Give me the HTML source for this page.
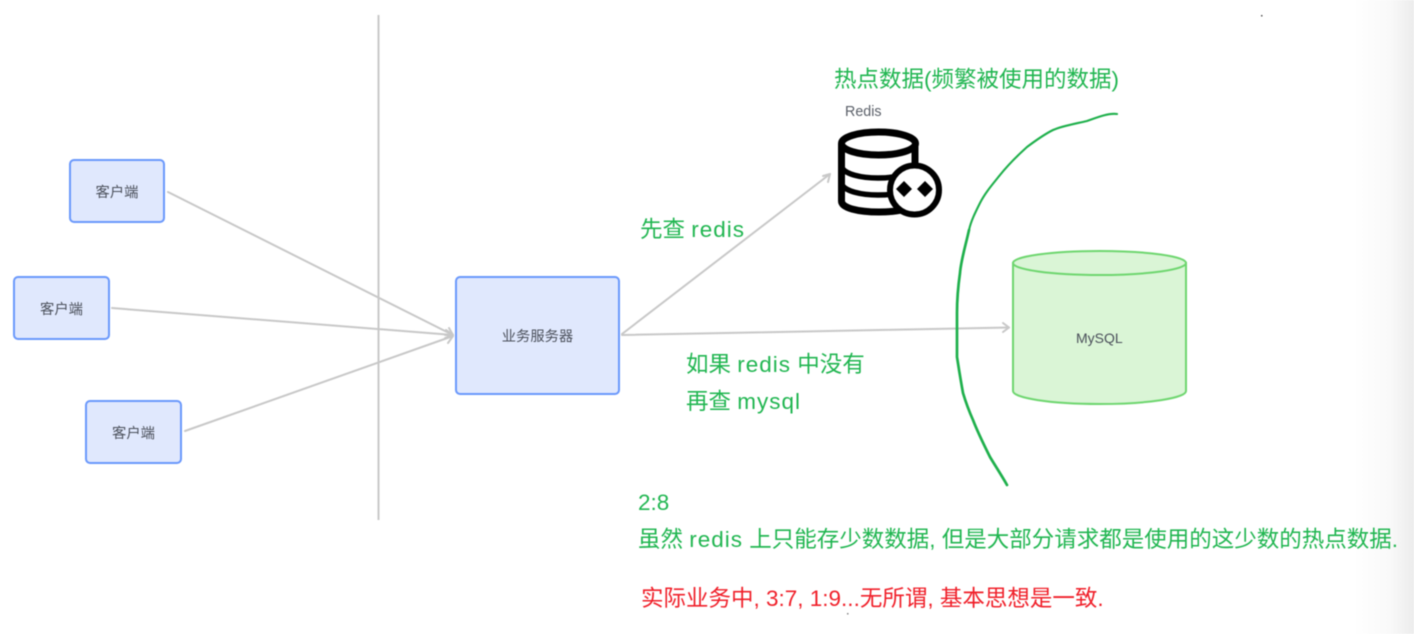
<!DOCTYPE html>
<html lang="zh">
<head>
<meta charset="utf-8">
<style>
html,body{margin:0;padding:0;background:#fff}
#c{position:relative;width:1414px;height:634px;overflow:hidden;background:#fff;font-family:"Liberation Sans","Noto Sans CJK SC",sans-serif;filter:blur(.4px)}
#g{position:absolute;right:0;top:0;width:60px;height:634px;background:linear-gradient(to right,rgba(236,236,236,0),#f9f9f9 60%,#ececec)}
svg{position:absolute;left:0;top:0}
.box{position:absolute;box-sizing:border-box;background:#e0e8fd;border:2px solid #6a98fc;border-radius:5px;display:flex;align-items:center;justify-content:center;color:#4a4f5a;font-size:14.300px;line-height:1;padding-top:4px}
.t{position:absolute;white-space:nowrap;color:#21b651;font-size:22.500px;line-height:30px}
.t b{font-weight:400;letter-spacing:1px}
.r{color:#f0202a}
</style>
</head>
<body>
<div id="c">
<div id="g"></div>
<svg width="1414" height="634" viewBox="0 0 1414 634" fill="none">
  <line x1="378.5" y1="15" x2="378.5" y2="520" stroke="#c8c8c8" stroke-width="2"/>
  <g stroke="#c8c8c8" stroke-width="2" stroke-linecap="round" stroke-linejoin="round">
    <line x1="168" y1="192" x2="453" y2="335"/>
    <polyline points="445,335 453,335 449,328"/>
    <line x1="112" y1="308" x2="453" y2="335"/>
    <polyline points="446,330 453,335 445,338"/>
    <line x1="185" y1="431" x2="453" y2="336"/>
    <polyline points="446,335 453,336 448,343"/>
    <line x1="622" y1="334" x2="830" y2="174"/>
    <polyline points="823,176 830,174 828,182"/>
    <line x1="622" y1="335" x2="1009" y2="327.500"/>
    <polyline points="1003,323 1009,327.500 1003,332"/>
  </g>
  <path d="M1013 263 V391 C1013 398 1050 404 1099.500 404 C1149 404 1186 398 1186 391 V263 Z" fill="#daf5d6" stroke="#6ed66f" stroke-width="2"/>
  <ellipse cx="1099.500" cy="263" rx="86.500" ry="12" fill="#daf5d6" stroke="#6ed66f" stroke-width="2"/>
  <g stroke="#000" stroke-width="7">
    <path d="M841.500 144 V201 C841.500 208 858 212 879 212 C900 212 915 208 915 201 V144" fill="#fff"/>
    <ellipse cx="878.500" cy="143.500" rx="37" ry="11.500" fill="#fff"/>
    <path d="M842 168 C846 174 860 178 878 178 C896 178 911 174 915 168" stroke-width="5.500"/>
    <path d="M842 185 C846 191 860 195 878 195 C896 195 911 191 915 185" stroke-width="5.500"/>
    <circle cx="914.500" cy="190" r="24.500" fill="#fff" stroke-width="6"/>
  </g>
  <path d="M896 189 L904 181 L912 189 L904 197 Z M917 189 L925 181 L933 189 L925 197 Z" fill="#000"/>
  <path d="M1117 114 C1108 113 1098 117 1087 121 C1074 124 1062 126 1053 130 C1043 135 1035 141 1027 147 C1017 156 1008 165 1000 175 C992 185 985 193 980 203 C975 213 971 221 969 230" stroke="#1fb04c" stroke-width="2.100" stroke-linecap="round" stroke-linejoin="round"/>
  <path d="M969 230 C966 244 961 260 960 273 C958 287 957 300 957 313 C957 328 957 343 957 357 C959 370 961 382 963 393 C966 403 969 411 973 420 C978 433 984 445 990 457 C996 467 1002 476 1007 485" stroke="#1fb04c" stroke-width="2.700" stroke-linecap="round" stroke-linejoin="round"/>
  <rect x="1261" y="15" width="1.500" height="1.500" fill="#555"/>
  <rect x="847" y="613" width="1.500" height="1.500" fill="#888"/>
</svg>
<div class="box" style="left:69px;top:159px;width:96px;height:64px">客户端</div>
<div class="box" style="left:13px;top:276px;width:97px;height:64px">客户端</div>
<div class="box" style="left:85px;top:400px;width:97px;height:64px">客户端</div>
<div class="box" style="left:455px;top:276px;width:165px;height:119px">业务服务器</div>
<div class="t" style="left:1076px;top:323px;color:#4a4f5a;font-size:14px">MySQL</div>
<div class="t" style="left:845px;top:97px;color:#5a5f68;font-size:14.300px">Redis</div>
<div class="t" style="left:834px;top:65px">热点数据(频繁被使用的数据)</div>
<div class="t" style="left:640px;top:215px">先查 <b>redis</b></div>
<div class="t" style="left:686px;top:350px">如果 <b>redis</b> 中没有</div>
<div class="t" style="left:686px;top:387px">再查 <b>mysql</b></div>
<div class="t" style="left:638px;top:488px">2:8</div>
<div class="t" style="left:638px;top:525px">虽然 <b>redis</b> 上只能存少数数据, 但是大部分请求都是使用的这少数的热点数据.</div>
<div class="t r" style="left:641px;top:584px">实际业务中, 3:7, 1:9...无所谓, 基本思想是一致.</div>
</div>
</body>
</html>
